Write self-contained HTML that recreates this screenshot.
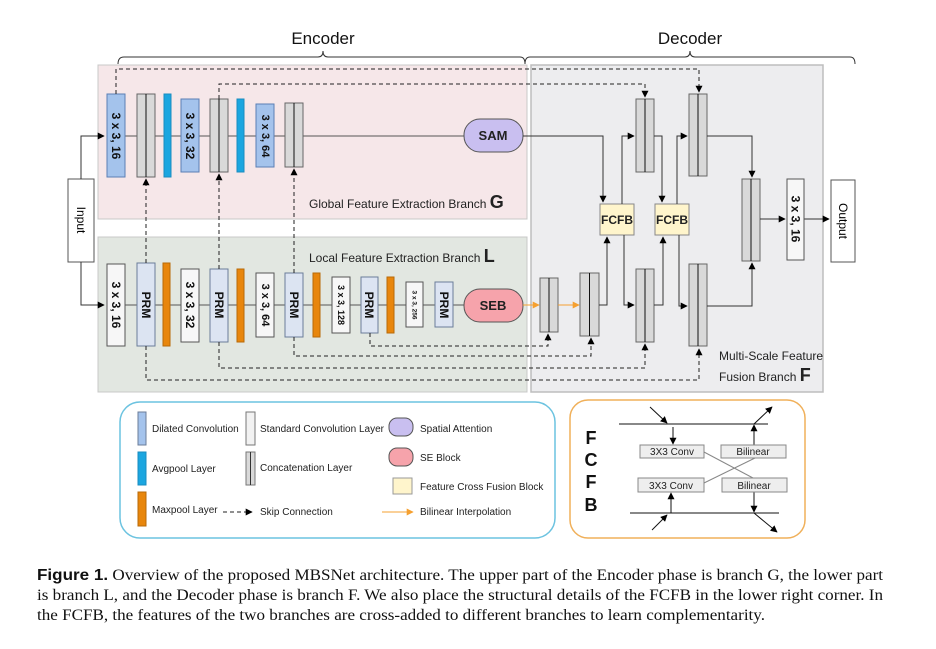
<!DOCTYPE html>
<html><head><meta charset="utf-8"><style>
body{margin:0;background:#fff;width:936px;height:649px;overflow:hidden}
svg{display:block}
text{font-family:"Liberation Sans",Arial,sans-serif}
.v{font-weight:bold;font-size:12px;fill:#111}
.cap{font-family:"Liberation Serif",serif;font-size:16px;fill:#111}
</style></head><body>
<svg width="936" height="649" viewBox="0 0 936 649" xmlns="http://www.w3.org/2000/svg">
<defs>
<marker id="a" viewBox="0 0 10 10" refX="9" refY="5" markerWidth="7" markerHeight="7" orient="auto"><path d="M0,0L10,5L0,10z" fill="#000"/></marker>
<marker id="o" viewBox="0 0 10 10" refX="9" refY="5" markerWidth="7" markerHeight="7" orient="auto"><path d="M0,0L10,5L0,10z" fill="#f5a030"/></marker>
</defs>
<text x="323" y="44" font-size="17" text-anchor="middle" fill="#111">Encoder</text>
<text x="690" y="44" font-size="17" text-anchor="middle" fill="#111">Decoder</text>
<path d="M118,64 Q118,57 124,57 L318,57 Q323,57 323,51 Q323,57 328,57 L520,57 Q525,57 525,64 M525,64 Q525,57 530,57 L685,57 Q690,57 690,51 Q690,57 695,57 L850,57 Q855,57 855,64" fill="none" stroke="#333" stroke-width="1"/>
<rect x="98" y="65" width="429" height="154" fill="#f6e7e9" stroke="#c8c8c8"/>
<rect x="98" y="237" width="429" height="155" fill="#e2e7e1" stroke="#c8c8c8"/>
<rect x="531" y="65" width="292" height="327" fill="#ebebed" fill-opacity="0.9" stroke="#bdbdbd" stroke-width="1.5"/>
<rect x="68" y="179" width="26" height="83" fill="#fff" stroke="#555"/>
<text transform="translate(81,220) rotate(90)" font-size="12" text-anchor="middle" dominant-baseline="central">Input</text>
<path d="M81,179 V136 H104" fill="none" stroke="#333" marker-end="url(#a)"/>
<path d="M81,262 V305 H104" fill="none" stroke="#333" marker-end="url(#a)"/>
<line x1="125" y1="136" x2="464" y2="136" stroke="#555"/>
<line x1="125" y1="305" x2="464" y2="305" stroke="#555"/>
<g stroke="#5b7fb5">
<rect x="107" y="94" width="18" height="83" fill="#a4c3ec"/>
<rect x="181" y="99" width="18" height="73" fill="#a4c3ec"/>
<rect x="256" y="104" width="18" height="63" fill="#a4c3ec"/>
</g>
<g fill="#1ba6e0" stroke="#1a8cc0"><rect x="164" y="94" width="7" height="83"/><rect x="237" y="99" width="7" height="73"/></g>
<g fill="#d9d9d9" stroke="#666">
<rect x="137" y="94" width="18" height="83"/><rect x="210" y="99" width="18" height="73"/><rect x="285" y="103" width="18" height="64"/>
</g>
<g stroke="#111"><line x1="146" y1="94" x2="146" y2="177"/><line x1="219" y1="99" x2="219" y2="172"/><line x1="294" y1="103" x2="294" y2="167"/></g>
<text class="v" transform="translate(116,136) rotate(90)" text-anchor="middle" dominant-baseline="central">3 x 3, 16</text>
<text class="v" transform="translate(190,136) rotate(90)" text-anchor="middle" dominant-baseline="central">3 x 3, 32</text>
<text class="v" transform="translate(265,136) rotate(90)" text-anchor="middle" dominant-baseline="central" style="font-size:11px">3 x 3, 64</text>
<rect x="464" y="119" width="59" height="33" rx="16" fill="#c9bff0" stroke="#555"/>
<text x="493" y="140" font-size="13" font-weight="bold" text-anchor="middle" fill="#222">SAM</text>
<text x="309" y="208" font-size="12" fill="#222">Global Feature Extraction Branch <tspan font-size="18" font-weight="bold">G</tspan></text>
<g fill="#f7f7f7" stroke="#555">
<rect x="107" y="264" width="18" height="82"/><rect x="181" y="269" width="18" height="73"/><rect x="256" y="273" width="18" height="64"/><rect x="332" y="277" width="18" height="56"/><rect x="406" y="282" width="17" height="45"/>
</g>
<g fill="#dce4f2" stroke="#6b7d99">
<rect x="137" y="263" width="18" height="83"/><rect x="210" y="269" width="18" height="73"/><rect x="285" y="273" width="18" height="64"/><rect x="361" y="277" width="17" height="56"/><rect x="435" y="282" width="18" height="45"/>
</g>
<g fill="#e8860c" stroke="#b86a08">
<rect x="163" y="263" width="7" height="83"/><rect x="237" y="269" width="7" height="73"/><rect x="313" y="273" width="7" height="64"/><rect x="387" y="277" width="7" height="56"/>
</g>
<text class="v" transform="translate(116,305) rotate(90)" text-anchor="middle" dominant-baseline="central">3 x 3, 16</text>
<text class="v" transform="translate(190,305) rotate(90)" text-anchor="middle" dominant-baseline="central">3 x 3, 32</text>
<text class="v" transform="translate(265,305) rotate(90)" text-anchor="middle" dominant-baseline="central" style="font-size:11px">3 x 3, 64</text>
<text class="v" transform="translate(341,305) rotate(90)" text-anchor="middle" dominant-baseline="central" style="font-size:9px">3 x 3, 128</text>
<text class="v" transform="translate(414,305) rotate(90)" text-anchor="middle" dominant-baseline="central" style="font-size:6.5px">3 x 3, 256</text>
<g class="v">
<text transform="translate(146,305) rotate(90)" text-anchor="middle" dominant-baseline="central">PRM</text>
<text transform="translate(219,305) rotate(90)" text-anchor="middle" dominant-baseline="central">PRM</text>
<text transform="translate(294,305) rotate(90)" text-anchor="middle" dominant-baseline="central">PRM</text>
<text transform="translate(369,305) rotate(90)" text-anchor="middle" dominant-baseline="central">PRM</text>
<text transform="translate(444,305) rotate(90)" text-anchor="middle" dominant-baseline="central">PRM</text>
</g>
<rect x="464" y="289" width="59" height="33" rx="16" fill="#f6a3ab" stroke="#555"/>
<text x="493" y="310" font-size="13" font-weight="bold" text-anchor="middle" fill="#222">SEB</text>
<text x="309" y="262" font-size="12" fill="#222">Local Feature Extraction Branch <tspan font-size="18" font-weight="bold">L</tspan></text>
<g fill="none" stroke="#222" stroke-dasharray="4,3">
<path d="M116,94 V69 H699 V92" marker-end="url(#a)"/>
<path d="M219,99 V84 H645 V97" marker-end="url(#a)"/>
<path d="M146,263 V179" marker-end="url(#a)"/>
<path d="M219,269 V174" marker-end="url(#a)"/>
<path d="M294,273 V169" marker-end="url(#a)"/>
<path d="M370,333 V346 H548 V334" marker-end="url(#a)"/>
<path d="M294,337 V356 H591 V338" marker-end="url(#a)"/>
<path d="M219,342 V368 H645 V344" marker-end="url(#a)"/>
<path d="M146,346 V380 H699 V349" marker-end="url(#a)"/>
</g>
<g fill="#d9d9d9" stroke="#666">
<rect x="540" y="278" width="18" height="54"/><rect x="580" y="273" width="19" height="63"/>
<rect x="636" y="99" width="18" height="73"/><rect x="689" y="94" width="18" height="82"/>
<rect x="636" y="269" width="18" height="73"/><rect x="689" y="264" width="18" height="82"/>
<rect x="742" y="179" width="18" height="82"/>
</g>
<g stroke="#111"><line x1="549" y1="278" x2="549" y2="332"/><line x1="589.5" y1="273" x2="589.5" y2="336"/><line x1="645" y1="99" x2="645" y2="172"/><line x1="698" y1="94" x2="698" y2="176"/><line x1="645" y1="269" x2="645" y2="342"/><line x1="698" y1="264" x2="698" y2="346"/><line x1="751" y1="179" x2="751" y2="261"/></g>
<g stroke="#f5a030" fill="none"><line x1="523" y1="305" x2="539" y2="305" marker-end="url(#o)"/><line x1="558" y1="305" x2="579" y2="305" marker-end="url(#o)"/></g>
<g fill="#fff5cc" stroke="#888"><rect x="600" y="204" width="34" height="31"/><rect x="655" y="204" width="34" height="31"/></g>
<text x="617" y="224" font-size="12" font-weight="bold" text-anchor="middle" fill="#222">FCFB</text>
<text x="672" y="224" font-size="12" font-weight="bold" text-anchor="middle" fill="#222">FCFB</text>
<g fill="none" stroke="#333">
<path d="M523,136 H603 V202" marker-end="url(#a)"/>
<path d="M622,204 V136 H634" marker-end="url(#a)"/>
<path d="M654,136 H662 V202" marker-end="url(#a)"/>
<path d="M677,204 V136 H687" marker-end="url(#a)"/>
<path d="M707,136 H752 V177" marker-end="url(#a)"/>
<path d="M599,305 H607 V237" marker-end="url(#a)"/>
<path d="M624,235 V305 H634" marker-end="url(#a)"/>
<path d="M654,305 H663 V237" marker-end="url(#a)"/>
<path d="M679,235 V306 H687" marker-end="url(#a)"/>
<path d="M707,306 H752 V263" marker-end="url(#a)"/>
<path d="M760,219 H785" marker-end="url(#a)"/>
<path d="M804,219 H829" marker-end="url(#a)"/>
</g>
<rect x="787" y="179" width="17" height="81" fill="#f7f7f7" stroke="#555"/>
<text class="v" transform="translate(795.5,219) rotate(90)" text-anchor="middle" dominant-baseline="central">3 x 3, 16</text>
<rect x="831" y="180" width="24" height="82" fill="#fff" stroke="#555"/>
<text transform="translate(843,221) rotate(90)" font-size="12" text-anchor="middle" dominant-baseline="central">Output</text>
<text x="719" y="360" font-size="12" fill="#222">Multi-Scale Feature</text>
<text x="719" y="381" font-size="12" fill="#222">Fusion Branch <tspan font-size="18" font-weight="bold">F</tspan></text>
<rect x="120" y="402" width="435" height="136" rx="20" fill="#fff" stroke="#6cc3e0" stroke-width="1.5"/>
<rect x="138" y="412" width="8" height="33" fill="#a4c3ec" stroke="#6b7d99"/>
<rect x="138" y="452" width="8" height="33" fill="#1ba6e0" stroke="#1a8cc0"/>
<rect x="138" y="492" width="8" height="34" fill="#e8860c" stroke="#b86a08"/>
<rect x="246" y="412" width="9" height="33" fill="#f2f2f2" stroke="#777"/>
<rect x="246" y="452" width="9" height="33" fill="#d9d9d9" stroke="#777"/><line x1="250.5" y1="452" x2="250.5" y2="485" stroke="#333"/>
<rect x="389" y="418" width="24" height="18" rx="8" fill="#c9bff0" stroke="#555"/>
<rect x="389" y="448" width="24" height="18" rx="8" fill="#f6a3ab" stroke="#555"/>
<rect x="393" y="478" width="19" height="16" fill="#fff5cc" stroke="#999"/>
<g font-size="10" fill="#222">
<text x="152" y="432">Dilated Convolution</text>
<text x="152" y="472">Avgpool Layer</text>
<text x="152" y="513">Maxpool Layer</text>
<text x="260" y="432">Standard Convolution Layer</text>
<text x="260" y="471">Concatenation Layer</text>
<text x="260" y="515">Skip Connection</text>
<text x="420" y="432">Spatial Attention</text>
<text x="420" y="461">SE Block</text>
<text x="420" y="490">Feature Cross Fusion Block</text>
<text x="420" y="515">Bilinear Interpolation</text>
</g>
<line x1="223" y1="512" x2="252" y2="512" stroke="#222" stroke-dasharray="4,3" marker-end="url(#a)"/>
<line x1="382" y1="512" x2="413" y2="512" stroke="#f5a030" marker-end="url(#o)"/>
<rect x="570" y="400" width="235" height="138" rx="18" fill="#fff" stroke="#f0b05a" stroke-width="1.5"/>
<g font-size="18" font-weight="bold" fill="#111" text-anchor="middle">
<text x="591" y="444">F</text><text x="591" y="466">C</text><text x="591" y="488">F</text><text x="591" y="511">B</text>
</g>
<g stroke="#111" fill="none">
<line x1="619" y1="424" x2="768" y2="424"/>
<line x1="630" y1="513" x2="779" y2="513"/>
<line x1="704" y1="452" x2="753" y2="478" stroke="#888"/>
<line x1="704" y1="483" x2="755" y2="458" stroke="#888"/>
<line x1="650" y1="407" x2="667" y2="423" marker-end="url(#a)"/>
<line x1="673" y1="427" x2="673" y2="444" marker-end="url(#a)"/>
<line x1="754" y1="445" x2="754" y2="425" marker-end="url(#a)"/>
<line x1="754" y1="424" x2="772" y2="407" marker-end="url(#a)"/>
<line x1="652" y1="530" x2="667" y2="515" marker-end="url(#a)"/>
<line x1="671" y1="513" x2="671" y2="493" marker-end="url(#a)"/>
<line x1="754" y1="492" x2="754" y2="512" marker-end="url(#a)"/>
<line x1="754" y1="513" x2="777" y2="532" marker-end="url(#a)"/>
</g>
<g fill="#eee" stroke="#888">
<rect x="640" y="445" width="64" height="13"/><rect x="721" y="445" width="65" height="13"/>
<rect x="638" y="478" width="66" height="14"/><rect x="722" y="478" width="65" height="14"/>
</g>
<g font-size="10" text-anchor="middle" fill="#222">
<text x="672" y="455">3X3 Conv</text><text x="753" y="455">Bilinear</text>
<text x="671" y="489">3X3 Conv</text><text x="754" y="489">Bilinear</text>
</g>
<text class="cap" x="37" y="580" textLength="846" lengthAdjust="spacingAndGlyphs"><tspan font-family="Liberation Sans" font-weight="bold">Figure 1.</tspan> Overview of the proposed MBSNet architecture. The upper part of the Encoder phase is branch G, the lower part</text>
<text class="cap" x="37" y="600" textLength="846" lengthAdjust="spacingAndGlyphs">is branch L, and the Decoder phase is branch F. We also place the structural details of the FCFB in the lower right corner. In</text>
<text class="cap" x="37" y="620" textLength="728" lengthAdjust="spacingAndGlyphs">the FCFB, the features of the two branches are cross-added to different branches to learn complementarity.</text>
</svg>
</body></html>
